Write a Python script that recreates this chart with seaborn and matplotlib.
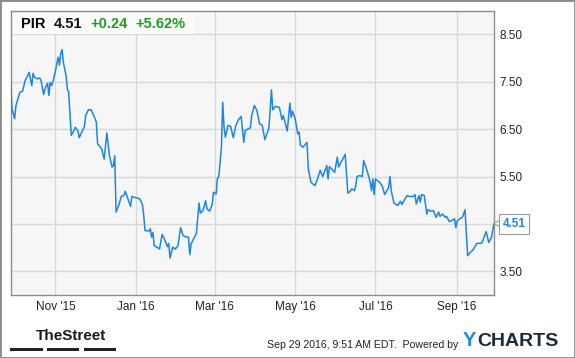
import matplotlib
matplotlib.use("Agg")
import matplotlib.pyplot as plt
import matplotlib.dates as mdates
from matplotlib.patches import Rectangle
import seaborn as sns
import pandas as pd

ticker = "PIR"
last_price = "4.51"
change = "+0.24"
change_pct = "+5.62%"
footer_note = "Sep 29 2016, 9:51 AM EDT.  Powered by"

# daily closes (one row per month)
dates = [
    "2015-09-28", "2015-09-29", "2015-10-01", "2015-10-02", "2015-10-05", "2015-10-07", "2015-10-09", "2015-10-11",
    "2015-10-12", "2015-10-14", "2015-10-15", "2015-10-16", "2015-10-18", "2015-10-20", "2015-10-21", "2015-10-23",
    "2015-10-24", "2015-10-26", "2015-10-27", "2015-10-28", "2015-10-29", "2015-10-30",
    "2015-11-01", "2015-11-03", "2015-11-04", "2015-11-05", "2015-11-06", "2015-11-07", "2015-11-09", "2015-11-10",
    "2015-11-11", "2015-11-12", "2015-11-13", "2015-11-15", "2015-11-16", "2015-11-18", "2015-11-19", "2015-11-21",
    "2015-11-23", "2015-11-24", "2015-11-26", "2015-11-28", "2015-11-30",
    "2015-12-02", "2015-12-03", "2015-12-06", "2015-12-08", "2015-12-10", "2015-12-12", "2015-12-14", "2015-12-15",
    "2015-12-16", "2015-12-17", "2015-12-19", "2015-12-21", "2015-12-23", "2015-12-24", "2015-12-26", "2015-12-28",
    "2015-12-29", "2015-12-31",
    "2016-01-04", "2016-01-06", "2016-01-07", "2016-01-08", "2016-01-11", "2016-01-12", "2016-01-13", "2016-01-14",
    "2016-01-15", "2016-01-17", "2016-01-19", "2016-01-21", "2016-01-23", "2016-01-25", "2016-01-26", "2016-01-27",
    "2016-01-29", "2016-01-31",
    "2016-02-02", "2016-02-04", "2016-02-06", "2016-02-09", "2016-02-10", "2016-02-11", "2016-02-12", "2016-02-16",
    "2016-02-18", "2016-02-19", "2016-02-21", "2016-02-23", "2016-02-24", "2016-02-26", "2016-02-28", "2016-02-29",
    "2016-03-02", "2016-03-03", "2016-03-04", "2016-03-06", "2016-03-07", "2016-03-08", "2016-03-09", "2016-03-11",
    "2016-03-13", "2016-03-15", "2016-03-17", "2016-03-19", "2016-03-21", "2016-03-23", "2016-03-24", "2016-03-28",
    "2016-03-29", "2016-03-31",
    "2016-04-02", "2016-04-04", "2016-04-06", "2016-04-08", "2016-04-11", "2016-04-12", "2016-04-13", "2016-04-14",
    "2016-04-16", "2016-04-19", "2016-04-21", "2016-04-22", "2016-04-25", "2016-04-27", "2016-04-28", "2016-04-29",
    "2016-05-01", "2016-05-03", "2016-05-04", "2016-05-05", "2016-05-07", "2016-05-10", "2016-05-11", "2016-05-13",
    "2016-05-16", "2016-05-18", "2016-05-20", "2016-05-22", "2016-05-25", "2016-05-26", "2016-05-27", "2016-05-31",
    "2016-06-02", "2016-06-03", "2016-06-08", "2016-06-10", "2016-06-12", "2016-06-13", "2016-06-15", "2016-06-16",
    "2016-06-17", "2016-06-19", "2016-06-21", "2016-06-22", "2016-06-25", "2016-06-27", "2016-06-28", "2016-06-29",
    "2016-06-30",
    "2016-07-01", "2016-07-04", "2016-07-06", "2016-07-08", "2016-07-09", "2016-07-11", "2016-07-12", "2016-07-13",
    "2016-07-15", "2016-07-18", "2016-07-20", "2016-07-21", "2016-07-23", "2016-07-25", "2016-07-27", "2016-07-30",
    "2016-07-31",
    "2016-08-01", "2016-08-03", "2016-08-04", "2016-08-05", "2016-08-07", "2016-08-09", "2016-08-10", "2016-08-12",
    "2016-08-14", "2016-08-16", "2016-08-18", "2016-08-19", "2016-08-21", "2016-08-23", "2016-08-24", "2016-08-26",
    "2016-08-28", "2016-08-30", "2016-08-31",
    "2016-09-01", "2016-09-03", "2016-09-05", "2016-09-07", "2016-09-08", "2016-09-09", "2016-09-11", "2016-09-13",
    "2016-09-16", "2016-09-19", "2016-09-20", "2016-09-23", "2016-09-25", "2016-09-27", "2016-09-29",
]
prices = [
    7.49, 6.93, 6.72, 7.00, 7.28, 7.30, 7.53, 7.63, 7.70, 7.42, 7.68, 7.60, 7.56, 7.58, 7.53, 7.23,
    7.35, 7.47, 7.21, 7.49, 7.42, 7.49,
    7.74, 8.02, 7.85, 8.09, 8.18, 7.91, 7.63, 7.35, 7.28, 6.82, 6.37, 6.47, 6.54, 6.47, 6.32, 6.44,
    6.56, 6.79, 6.91, 6.91, 6.79,
    6.65, 6.19, 6.09, 5.87, 6.42, 5.94, 5.70, 5.73, 5.94, 4.75, 4.89, 5.08, 5.10, 5.19, 5.03, 4.87,
    5.08, 5.06,
    5.03, 4.91, 4.68, 4.36, 4.35, 4.40, 4.22, 4.32, 4.04, 4.01, 3.97, 4.28, 4.16, 4.02, 4.09, 3.78,
    4.01, 3.97,
    4.04, 4.42, 4.25, 4.22, 4.22, 3.85, 4.08, 4.30, 4.94, 4.73, 4.78, 4.99, 4.82, 4.77, 4.91, 5.17,
    5.13, 5.47, 5.49, 6.12, 7.07, 6.54, 6.33, 6.58, 6.56, 6.32, 6.58, 6.70, 6.77, 6.22, 6.47, 6.53,
    6.79, 7.00,
    6.89, 6.61, 6.58, 6.28, 6.51, 6.89, 7.33, 6.91, 6.98, 6.96, 6.70, 6.79, 6.46, 7.05, 6.75, 6.88,
    6.72, 6.40, 6.44, 6.16, 6.12, 6.22, 5.66, 5.38, 5.31, 5.45, 5.63, 5.50, 5.73, 5.45, 5.71, 5.59,
    5.91, 5.70, 5.97, 5.15, 5.19, 5.24, 5.20, 5.31, 5.50, 5.52, 5.50, 5.84, 5.59, 5.38, 5.20, 5.45,
    5.12,
    5.45, 5.38, 5.31, 5.12, 5.17, 5.27, 5.50, 5.20, 4.94, 4.89, 4.98, 4.91, 5.01, 5.10, 5.08, 5.08,
    5.12,
    4.92, 5.10, 4.96, 5.12, 5.10, 4.71, 4.80, 4.77, 4.78, 4.64, 4.75, 4.66, 4.71, 4.64, 4.66, 4.55,
    4.57, 4.61, 4.42,
    4.56, 4.61, 4.64, 4.80, 4.29, 3.83, 3.90, 3.95, 4.09, 4.09, 4.11, 4.34, 4.11, 4.21, 4.51,
]

y_ticks = [3.5, 4.5, 5.5, 6.5, 7.5, 8.5]
x_ticks = ["2015-11-01", "2016-01-01", "2016-03-01", "2016-05-01", "2016-07-01", "2016-09-01"]

df = pd.DataFrame({"date": pd.to_datetime(dates), "price": prices})

sns.set_style("white")
plt.rcParams["font.family"] = ["Liberation Sans", "DejaVu Sans"]

W, H = 575, 358
fig = plt.figure(figsize=(W / 100, H / 100), dpi=100)
ax = fig.add_axes([10.7 / W, 1 - 295 / H, (494 - 10.7) / W, (295 - 10.7) / H])
ax.set_facecolor("#f6f6f6")

sns.lineplot(data=df, x="date", y="price", ax=ax, color="#1a87e6", linewidth=1.1, zorder=3)

ax.set_xlim(pd.Timestamp("2015-09-28"), pd.Timestamp("2016-09-29"))
ax.set_ylim(3.0, 9.0)
ax.set_yticks(y_ticks)
# the 4.50 label sits under the last-price flag, so it is left blank
ax.set_yticklabels(["" if v == 4.5 else f"{v:.2f}" for v in y_ticks])
ax.set_xticks(pd.to_datetime(x_ticks))
ax.xaxis.set_major_formatter(mdates.DateFormatter("%b '%y"))
ax.yaxis.tick_right()
ax.tick_params(axis="y", length=0, pad=4, labelsize=8.5, labelcolor="#222222")
ax.tick_params(axis="x", length=0, pad=4, labelsize=8.5, labelcolor="#222222")
ax.grid(True, color="#d8d8d8", linewidth=1)
ax.set_axisbelow(True)
ax.set_xlabel("")
ax.set_ylabel("")
for s in ax.spines.values():
    s.set_color("#8c8c8c")
    s.set_linewidth(1)

# header band with quote
ax.add_patch(Rectangle((0, (295 - 33.5) / (295 - 10.7)), (195 - 10.7) / (494 - 10.7), 1,
                       transform=ax.transAxes, facecolor="#fafafa", edgecolor="none", zorder=1))
hy = 1 - 24 / H
fig.text(21 / W, hy, ticker, fontsize=10.5, fontweight="bold", color="black", va="center")
fig.text(54 / W, hy, last_price, fontsize=10.5, fontweight="bold", color="#111111", va="center")
fig.text(90 / W, hy, change, fontsize=10.5, fontweight="bold", color="#1f9e1f", va="center")
fig.text(135 / W, hy, change_pct, fontsize=10.5, fontweight="bold", color="#1f9e1f", va="center")

# last price flag on the right axis
ax.plot([1.006], [(4.51 - 3.0) / 6.0], marker="<", markersize=6, markerfacecolor="white",
        markeredgecolor="#999999", markeredgewidth=0.8, transform=ax.transAxes, clip_on=False, zorder=5)
fig.text(514 / W, 1 - 224 / H, last_price, fontsize=8.5, fontweight="bold", color="#1a87e6",
         ha="center", va="center",
         bbox=dict(boxstyle="square,pad=0.3", facecolor="white", edgecolor="#999999", linewidth=0.8))

# footer
fig.text(36 / W, 1 - 336 / H, "TheStreet", fontsize=11, fontweight="bold", color="#1a1a1a",
         va="center", family=["Liberation Sans Narrow", "Liberation Sans"])
for x0, x1 in [(10, 43), (47, 79), (84, 116)]:
    fig.patches.append(Rectangle((x0 / W, 1 - 351 / H), (x1 - x0) / W, 3.5 / H,
                                 transform=fig.transFigure, facecolor="#222222", edgecolor="none"))
fig.text(267 / W, 1 - 345 / H, footer_note, fontsize=7.6, color="#222222", va="center")
fig.text(463 / W, 1 - 341 / H, "Y", fontsize=14.5, fontweight="bold", color="#1a8fe0", va="center")
fig.text(477 / W, 1 - 341 / H, "CHARTS", fontsize=14, fontweight="bold", color="#1c2b3c", va="center")

fig.patches.append(Rectangle((0, 0), 1, 1, transform=fig.transFigure, fill=False,
                             edgecolor="#8a8a8a", linewidth=2))

fig.savefig("out.png", dpi=100)
